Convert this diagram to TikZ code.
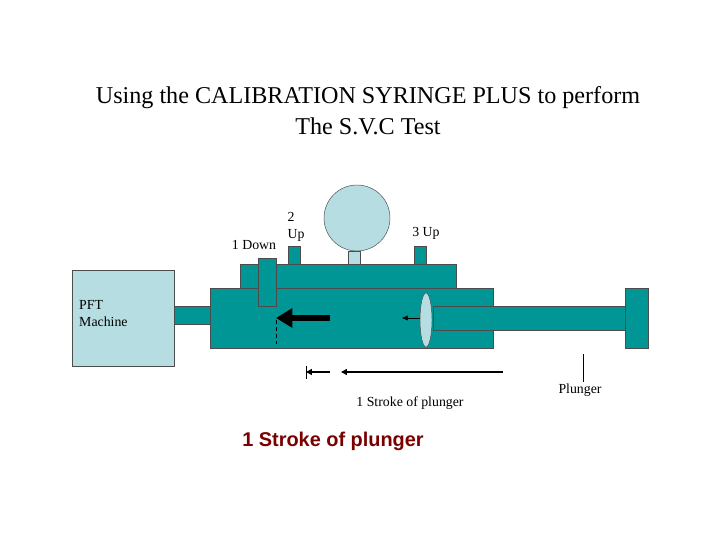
\documentclass[tikz,border=0pt]{standalone}
\usepackage{fontspec}
\setmainfont{Liberation Serif}
\newfontfamily\arial{Liberation Sans}
\usetikzlibrary{shapes.geometric,arrows.meta}
\begin{document}
\begin{tikzpicture}[x=0.03cm,y=-0.03cm,
  teal/.style={fill=tealc,draw=black!70,line width=0.4pt},
  light/.style={fill=lightc,draw=black!70,line width=0.4pt},
  lbl/.style={font=\fontsize{11.8}{15}\selectfont,inner sep=0pt,align=left}]
\definecolor{tealc}{RGB}{0,150,150}
\definecolor{lightc}{RGB}{182,221,226}
\definecolor{darkred}{RGB}{122,0,0}
\useasboundingbox (0,0) rectangle (720,540);
\node (t1) at (368,98) {\fontsize{20.6}{22}\selectfont Using the CALIBRATION SYRINGE PLUS to perform};
\node (t2) at (368,126) {\fontsize{20.6}{22}\selectfont The S.V.C Test};
% PFT machine
\draw[light] (72,270) rectangle (174,366);
\node[lbl,anchor=north west] (pft) at (79,300) {PFT\\Machine};
\draw[teal] (174,306) rectangle (210,324);
% gauge
\draw[light] (348,251) rectangle (360,270);
\node[light,circle,minimum size=66*0.03cm,inner sep=0pt] (gauge) at (357,218) {};
% tabs
\draw[teal] (288,246) rectangle (300,264);
\draw[teal] (414,246) rectangle (426,264);
% bodies
\draw[teal] (240,264) rectangle (456,288);
\draw[teal] (210,288) rectangle (493,348);
\draw[teal] (258,258) rectangle (276,306);
% plunger
\draw[teal] (433,306) rectangle (625,330);
\draw[teal] (625,288) rectangle (648,348);
\node[light,ellipse,minimum width=12*0.03cm,minimum height=54*0.03cm,inner sep=0pt] (piston) at (426,320) {};
% arrows inside
\coordinate (ba) at (330,318); \coordinate (bb) at (276,318);
\draw[line width=5pt,-{Triangle[length=14pt,width=16pt]}] (ba) -- (bb);
\draw[dashed] (276,320) -- (276,344);
\coordinate (sa) at (420,318); \coordinate (sb) at (402,318);
\draw[-{Triangle[length=5pt,width=4pt]}] (sa) -- (sb);
% stroke arrows
\draw (306,366) -- (306,379);
\coordinate (s1) at (330,372); \coordinate (s2) at (306,372);
\draw[line width=1.2pt,-{Triangle[length=5pt,width=5pt]}] (s1) -- (s2);
\coordinate (s3) at (503,372); \coordinate (s4) at (341,372);
\draw[line width=1.2pt,-{Triangle[length=5pt,width=5pt]}] (s3) -- (s4);
\draw (583,354) -- (583,382);
% labels
\node[lbl] (d1) at (254,245) {1 Down};
\node[lbl] (u2) at (296,227) {2\\Up};
\node[lbl] (u3) at (426,233) {3 Up};
\node[lbl] (pl) at (580,390) {Plunger};
\node[lbl] (st) at (410,403) {1 Stroke of plunger};
\node[font=\arial\bfseries\fontsize{17}{19}\selectfont,text=darkred] (big) at (333,441) {1 Stroke of plunger};
\end{tikzpicture}
\end{document}
